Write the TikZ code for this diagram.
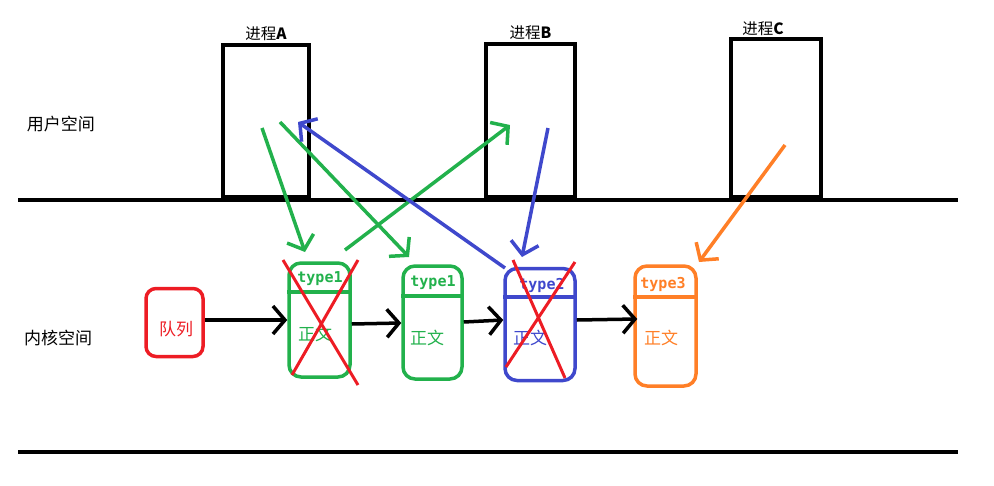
\documentclass[tikz,border=0pt]{standalone}
\usepackage{fontspec}
\newfontfamily\cjk{Noto Sans CJK SC}
\newfontfamily\mono{DejaVu Sans Mono}
\usetikzlibrary{arrows.meta}
\definecolor{pgreen}{RGB}{34,177,76}
\definecolor{pblue}{RGB}{63,72,204}
\definecolor{pred}{RGB}{237,28,36}
\definecolor{porange}{RGB}{255,127,39}
\tikzset{
  proc/.style={draw=black,line width=4pt,minimum width=86pt,inner sep=0pt},
  sepline/.style={line width=4pt,draw=black},
  msgbox/.style={draw=#1,line width=3.5pt,rounded corners=12pt,inner sep=0pt,minimum width=60pt},
  lbl/.style={font=\cjk\fontsize{17pt}{19pt}\selectfont,inner sep=0pt},
  plbl/.style={font=\cjk\fontsize{15.5pt}{18pt}\selectfont,inner sep=0pt},
  typelbl/.style={font=\mono\bfseries\fontsize{15pt}{17pt}\selectfont,text=#1,inner sep=0pt},
  body/.style={font=\cjk\fontsize{17pt}{19pt}\selectfont,text=#1,inner sep=0pt},
  arr/.style={line width=3.5pt,draw=#1,-{Straight Barb[length=12pt,width=28pt,line width=3.5pt]}},
  cross/.style={draw=pred,line width=3pt},
}
\begin{document}
\begin{tikzpicture}[x=1pt,y=-1pt]
\useasboundingbox (0,0) rectangle (994,485);
% separators
\coordinate (l1a) at (18,200); \coordinate (l1b) at (958,200);
\coordinate (l2a) at (18,452); \coordinate (l2b) at (958,452);
\draw[sepline] (l1a) -- (l1b);
\draw[sepline] (l2a) -- (l2b);
% labels
\node[lbl] (us) at (61,124) {用户空间};
\node[lbl] (ks) at (58,338) {内核空间};
% processes
\node[proc,minimum width=86pt,minimum height=152pt] (pa) at (266,121) {};
\node[proc,minimum width=89pt,minimum height=153pt] (pb) at (530.5,120.5) {};
\node[proc,minimum width=90pt,minimum height=158pt] (pc) at (776,118) {};
\node[plbl,anchor=south] (la) at ([yshift=2pt]pa.north) {进程\textbf{A}};
\node[plbl,anchor=south] (lb) at ([yshift=2pt]pb.north) {进程\textbf{B}};
\node[plbl,anchor=south] (lc) at ([xshift=-13pt,yshift=1pt]pc.north) {进程\textbf{C}};
% queue
\node[msgbox=pred,minimum width=57pt,minimum height=68pt,rounded corners=10pt] (q) at (174.5,322.5) {};
\node[body=pred] (qt) at (176,329) {队列};
% messages
\node[msgbox=pgreen,minimum width=61pt,minimum height=114pt] (m1) at (319.5,320) {};
\draw[draw=pgreen,line width=3.5pt] (m1.west |- 0,292) -- (m1.east |- 0,292);
\node[typelbl=pgreen] (t1) at (320,279) {type1};
\node[body=pgreen] (b1) at (315,334) {正文};

\node[msgbox=pgreen,minimum width=59pt,minimum height=113pt] (m2) at (432.5,322.5) {};
\draw[draw=pgreen,line width=3.5pt] (m2.west |- 0,296) -- (m2.east |- 0,296);
\node[typelbl=pgreen] (t2) at (433,283) {type1};
\node[body=pgreen] (b2) at (427,338) {正文};

\node[msgbox=pblue,minimum width=70pt,minimum height=112pt] (m3) at (540,324.5) {};
\draw[draw=pblue,line width=3.5pt] (m3.west |- 0,297) -- (m3.east |- 0,297);
\node[typelbl=pblue] (t3) at (542,285) {type2};
\node[body=pblue] (b3) at (530,338) {正文};

\node[msgbox=porange,minimum width=61pt,minimum height=120pt] (m4) at (665.5,326) {};
\draw[draw=porange,line width=3.5pt] (m4.west |- 0,297) -- (m4.east |- 0,297);
\node[typelbl=porange] (t4) at (663,284) {type3};
\node[body=porange] (b4) at (661,338) {正文};

% black chain arrows
\draw[arr=black] (q.east |- 0,320) -- (m1.west |- 0,320);
\draw[arr=black] (m1.east |- 0,324) -- (m2.west |- 0,323);
\draw[arr=black] (m2.east |- 0,322) -- (m3.west |- 0,320);
\draw[arr=black] (m3.east |- 0,320) -- ([xshift=4pt]m4.west |- 0,319);

% red crosses
\coordinate (x1a) at (283,260); \coordinate (x1b) at (358,385);
\coordinate (x1c) at (358,260); \coordinate (x1d) at (292,375);
\draw[cross] (x1a) -- (x1b); \draw[cross] (x1c) -- (x1d);
\coordinate (x3a) at (513,260); \coordinate (x3b) at (565,378);
\coordinate (x3c) at (575,262); \coordinate (x3d) at (506,367);
\draw[cross] (x3a) -- (x3b); \draw[cross] (x3c) -- (x3d);

% process arrows
\coordinate (ga1) at (262,128); \coordinate (ga2) at (305,252);
\coordinate (gb1) at (280,122); \coordinate (gb2) at (409,257);
\coordinate (gc1) at (345,250); \coordinate (gc2) at (510,125);
\draw[arr=pgreen] (ga1) -- (ga2);
\draw[arr=pgreen] (gb1) -- (gb2);
\draw[arr=pgreen] (gc1) -- (gc2);
\coordinate (bb1) at (548,128); \coordinate (bb2) at (522,257);
\coordinate (ba1) at (505,268); \coordinate (ba2) at (298,122);
\draw[arr=pblue] (bb1) -- (bb2);
\draw[arr=pblue] (ba1) -- (ba2);
\coordinate (oc1) at (785,145); \coordinate (oc2) at (699,262);
\draw[arr=porange] (oc1) -- (oc2);
\end{tikzpicture}
\end{document}
